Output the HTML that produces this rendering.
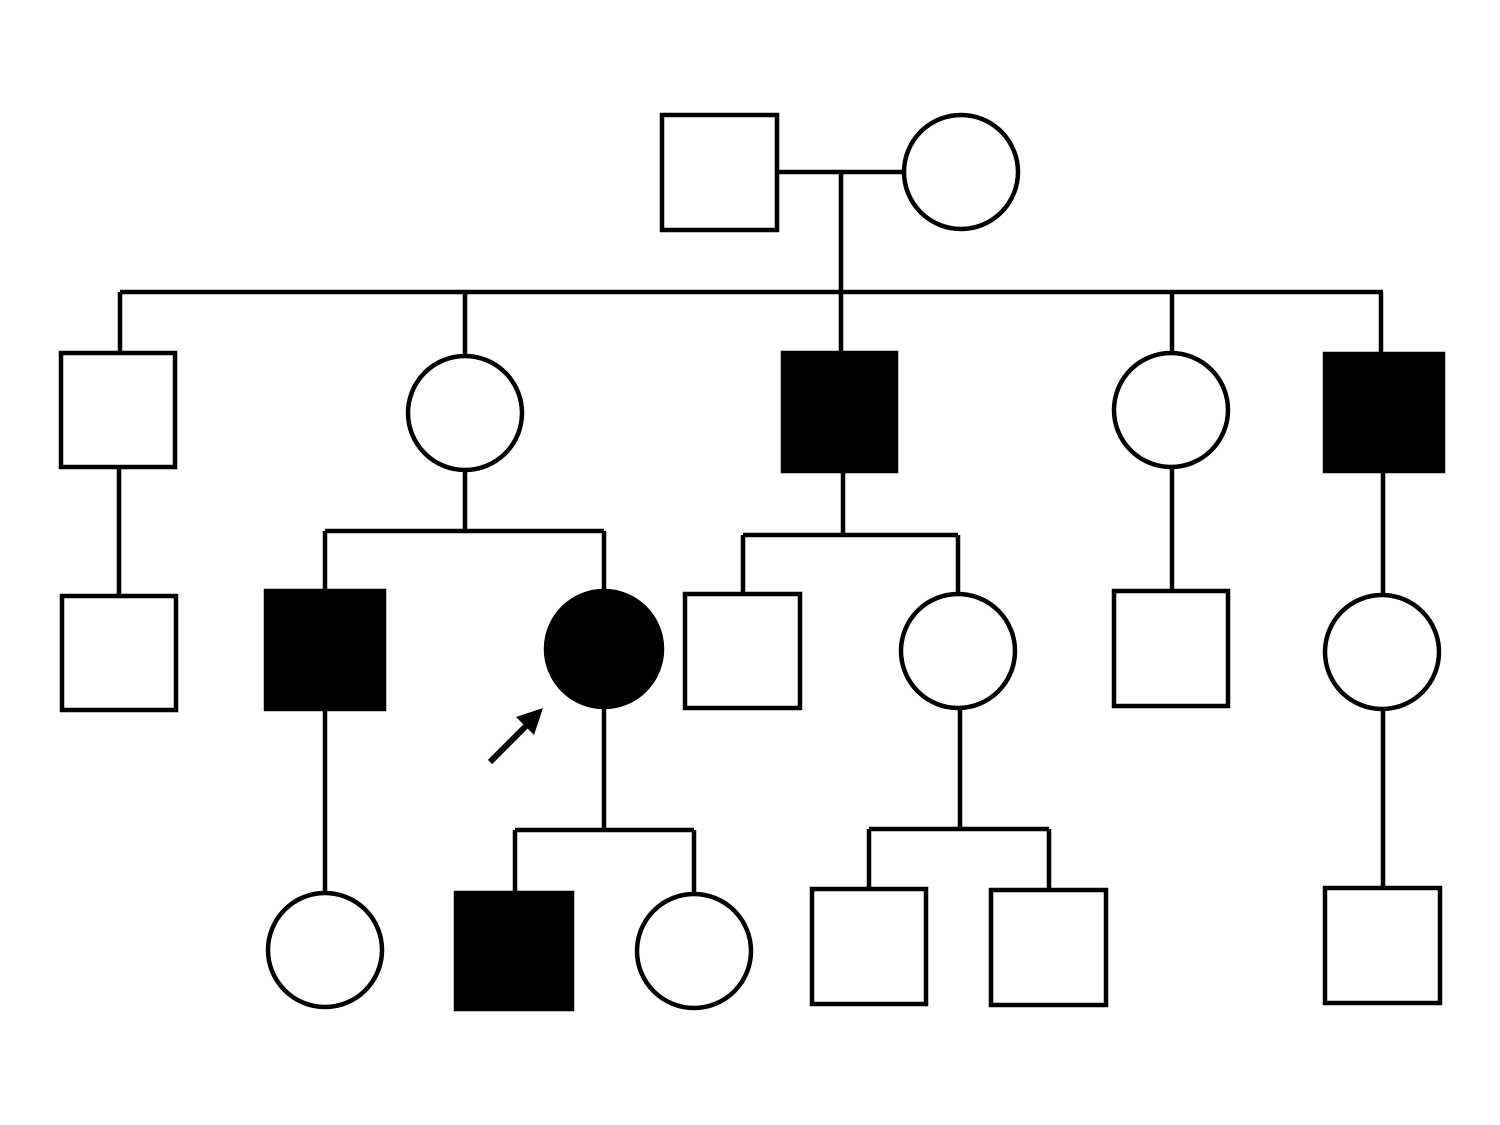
<!DOCTYPE html>
<html><head><meta charset="utf-8"><style>html,body{margin:0;padding:0;background:#fff}svg{display:block}</style></head>
<body>
<svg width="1500" height="1125" viewBox="0 0 1500 1125" xmlns="http://www.w3.org/2000/svg">
<g stroke="#000" stroke-width="4.5" fill="none">
<!-- gen1 -->
<rect x="662" y="115" width="115" height="115" fill="#fff"/>
<circle cx="961" cy="172" r="57" fill="#fff"/>
<line x1="777" y1="172" x2="904" y2="172"/>
<line x1="841" y1="172" x2="841" y2="292"/>
<line x1="120" y1="292" x2="1383" y2="292"/>
<!-- gen2 -->
<line x1="120" y1="292" x2="120" y2="353"/>
<rect x="61" y="353" width="114" height="114" fill="#fff"/>
<line x1="465" y1="292" x2="465" y2="356"/>
<circle cx="465" cy="413" r="57" fill="#fff"/>
<line x1="841" y1="292" x2="841" y2="352"/>
<rect x="783" y="353" width="113" height="118" fill="#000"/>
<line x1="1172" y1="292" x2="1172" y2="353"/>
<circle cx="1171" cy="410" r="57" fill="#fff"/>
<line x1="1381" y1="292" x2="1381" y2="353"/>
<rect x="1325" y="354" width="118" height="117" fill="#000"/>
<!-- gen3 -->
<line x1="119" y1="467" x2="119" y2="596"/>
<rect x="62" y="596" width="114" height="114" fill="#fff"/>
<line x1="465" y1="470" x2="465" y2="531"/>
<line x1="325" y1="531" x2="604" y2="531"/>
<line x1="325" y1="531" x2="325" y2="591"/>
<line x1="604" y1="531" x2="604" y2="591"/>
<rect x="266" y="591" width="118" height="118" fill="#000"/>
<circle cx="604" cy="649" r="58" fill="#000"/>
<line x1="843" y1="471" x2="843" y2="535"/>
<line x1="743" y1="535" x2="958" y2="535"/>
<line x1="743" y1="535" x2="743" y2="594"/>
<rect x="685" y="594" width="115" height="114" fill="#fff"/>
<line x1="958" y1="535" x2="958" y2="594"/>
<circle cx="958" cy="651" r="57" fill="#fff"/>
<line x1="1172" y1="467" x2="1172" y2="591"/>
<rect x="1114" y="591" width="114" height="115" fill="#fff"/>
<line x1="1383" y1="471" x2="1383" y2="595"/>
<circle cx="1382" cy="652" r="57" fill="#fff"/>
<!-- gen4 -->
<line x1="325" y1="709" x2="325" y2="893"/>
<circle cx="325" cy="950" r="57" fill="#fff"/>
<line x1="604" y1="707" x2="604" y2="830"/>
<line x1="515" y1="830" x2="694" y2="830"/>
<line x1="515" y1="830" x2="515" y2="892"/>
<rect x="456" y="893" width="116" height="116" fill="#000"/>
<line x1="694" y1="830" x2="694" y2="894"/>
<circle cx="694" cy="951" r="57" fill="#fff"/>
<line x1="960" y1="708" x2="960" y2="829"/>
<line x1="869" y1="829" x2="1049" y2="829"/>
<line x1="869" y1="829" x2="869" y2="889"/>
<rect x="812" y="889" width="114" height="115" fill="#fff"/>
<line x1="1049" y1="829" x2="1049" y2="890"/>
<rect x="991" y="890" width="115" height="115" fill="#fff"/>
<line x1="1383" y1="709" x2="1383" y2="888"/>
<rect x="1325" y="888" width="115" height="115" fill="#fff"/>
<!-- arrow -->
<line x1="490" y1="762" x2="528" y2="724" stroke-width="6"/>
</g>
<polygon points="543,708 516,717 534,735" fill="#000"/>
</svg>
</body></html>
